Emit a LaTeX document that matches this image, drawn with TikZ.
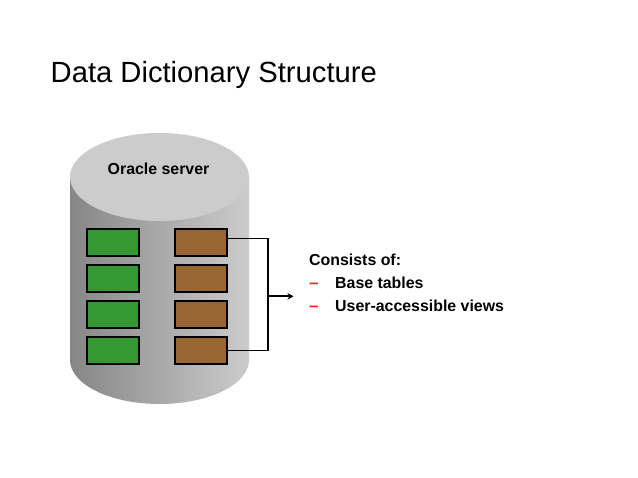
\documentclass[tikz,border=0pt]{standalone}
\usepackage{fontspec}
\setmainfont{Liberation Sans}
\usetikzlibrary{arrows.meta}
\definecolor{topgray}{HTML}{CCCCCC}
\definecolor{sidedark}{HTML}{868686}
\definecolor{sidemid}{HTML}{A0A0A0}
\definecolor{sidelight}{HTML}{CCCCCC}
\definecolor{boxgreen}{HTML}{339933}
\definecolor{boxbrown}{HTML}{996633}
\definecolor{dashred}{HTML}{FF2222}
\tikzset{
  greenbox/.style={draw=black,line width=2.3pt,fill=boxgreen,minimum width=51.7pt,minimum height=27.4pt,inner sep=0pt,outer sep=0pt},
  brownbox/.style={draw=black,line width=2.3pt,fill=boxbrown,minimum width=51.7pt,minimum height=27.4pt,inner sep=0pt,outer sep=0pt},
  link/.style={draw=black,line width=1.8pt},
  lab/.style={font=\fontsize{15.9}{18}\selectfont\bfseries,text=black,inner sep=0pt,anchor=base west},
  dashmark/.style={font=\fontsize{17}{18}\selectfont\bfseries,text=dashred,inner sep=0pt,anchor=base west}
}
\begin{document}
\begin{tikzpicture}[x=1pt,y=-1pt]
\useasboundingbox (0,0) rectangle (638,478);
\fill[white] (0,0) rectangle (638,478);
\shade[left color=sidedark,middle color=sidemid,right color=sidelight,shading angle=90]
  (70,177) -- (70,360) arc[start angle=180,end angle=360,x radius=89.5pt,y radius=44pt] -- (249,177) -- cycle;
\fill[topgray] (159.5,177) ellipse[x radius=89.5pt,y radius=44pt];
\node[anchor=base west,inner sep=0pt,font=\fontsize{29.2}{34}\selectfont] (title) at (50.5,83) {Data Dictionary Structure};
\node[lab] (srv) at (107.5,174.5) {Oracle server};
\node[greenbox] (g1) at (113,242.5) {};
\node[greenbox] (g2) at (113,278.5) {};
\node[greenbox] (g3) at (113,314.5) {};
\node[greenbox] (g4) at (113,350.5) {};
\node[brownbox] (b1) at (201,242.5) {};
\node[brownbox] (b2) at (201,278.5) {};
\node[brownbox] (b3) at (201,314.5) {};
\node[brownbox] (b4) at (201,350.5) {};
\coordinate (tr) at (267.7,238.5);
\coordinate (br) at (267.7,350.5);
\coordinate (mid) at (267.7,296.3);
\coordinate (tip) at (293.5,296.3);
\draw[link] (b1.east |- tr) -- (tr) -- (br) -- (b4.east |- br);
\draw[link,-{Stealth[length=6pt,width=6.5pt]}] (mid) -- (tip);
\node[lab] (c) at (309,265.5) {Consists of:};
\node[dashmark] (d1) at (309,288.5) {–};
\node[lab] (t1) at (335,288.5) {Base tables};
\node[dashmark] (d2) at (309,311.5) {–};
\node[lab] (t2) at (335,311.5) {User-accessible views};
\end{tikzpicture}
\end{document}
